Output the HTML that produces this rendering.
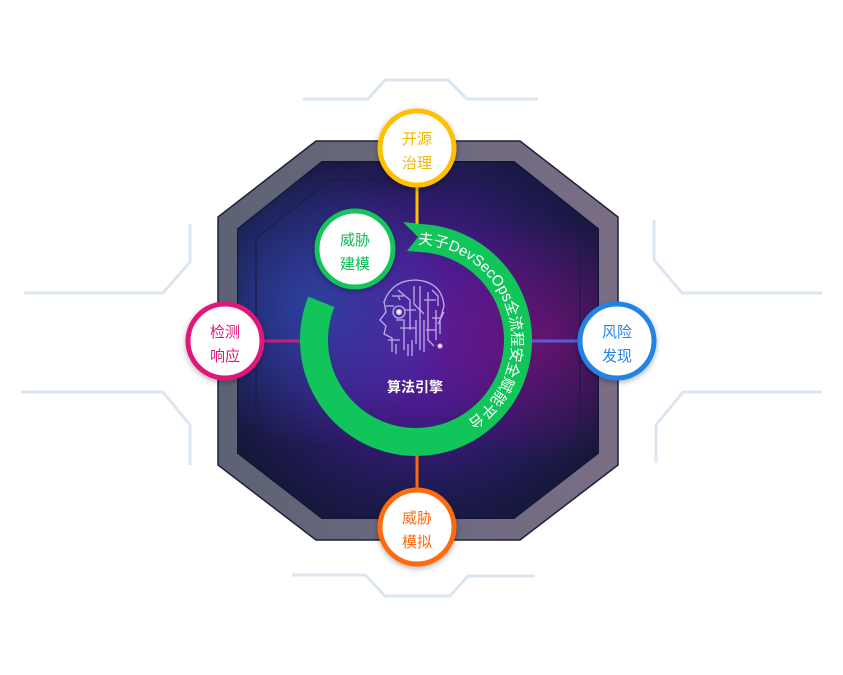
<!DOCTYPE html>
<html><head><meta charset="utf-8"><style>
html,body{margin:0;padding:0;background:#fff;width:843px;height:675px;overflow:hidden}
svg{display:block}
text{font-family:"Liberation Sans","Noto Sans CJK SC",sans-serif}
</style></head><body>
<svg width="843" height="675" viewBox="0 0 843 675" xmlns="http://www.w3.org/2000/svg">
<defs>
<linearGradient id="frame" x1="0" y1="0" x2="1" y2="0">
<stop offset="0" stop-color="#5c6274"/><stop offset="1" stop-color="#7a6e86"/></linearGradient>
<radialGradient id="inner" cx="0.5" cy="0.47" r="0.6">
<stop offset="0" stop-color="#5a1fa0"/><stop offset="0.35" stop-color="#4a1a8e"/>
<stop offset="0.7" stop-color="#241a5a"/><stop offset="1" stop-color="#141838"/></radialGradient>
<radialGradient id="blue" cx="0.2" cy="0.4" r="0.4">
<stop offset="0" stop-color="#2a4aa8" stop-opacity="0.8"/><stop offset="1" stop-color="#2a4aa8" stop-opacity="0"/></radialGradient>
<radialGradient id="mag" cx="0.85" cy="0.5" r="0.35">
<stop offset="0" stop-color="#7a1070" stop-opacity="0.7"/><stop offset="1" stop-color="#7a1070" stop-opacity="0"/></radialGradient>
<filter id="sh" x="-30%" y="-30%" width="160%" height="160%"><feDropShadow dx="0" dy="2" stdDeviation="3" flood-color="#000" flood-opacity="0.3"/></filter>
<path id="tp" d="M 414 244 A 96 96 0 0 1 512 340 A 96 96 0 0 1 416 436"/>
</defs>
<g fill="none" stroke="#dce6f3" stroke-width="3">
<polyline points="303,99 368,99 385,80 448,80 467,99 538,99"/>
<polyline points="292,575 365,575 385,596 450,596 468,576 535,576"/>
<polyline points="190,224 190,262 163,293 24,293"/>
<polyline points="21,392 163,392 190,425 190,465"/>
<polyline points="654,220 654,260 682,293 822,293"/>
<polyline points="822,392 683,392 656,425 656,463"/>
</g>
<polygon points="316,141 520,141 618,217 618,465 520,540 316,540 218,465 218,217" fill="url(#frame)" stroke="#1e2036" stroke-width="1.5"/>
<polygon points="322,162 514,162 598,229 598,453 514,518 322,518 238,453 238,229" fill="url(#inner)" stroke="#15173a" stroke-width="2"/>
<polygon points="322,162 514,162 598,229 598,453 514,518 322,518 238,453 238,229" fill="url(#blue)"/>
<polygon points="322,162 514,162 598,229 598,453 514,518 322,518 238,453 238,229" fill="url(#mag)"/>
<polygon points="330,180 506,180 580,238 580,444 506,500 330,500 256,444 256,238" fill="none" stroke="#1a1c44" stroke-opacity="0.6" stroke-width="2"/>
<line x1="417" y1="185" x2="417" y2="225" stroke="#ffc000" stroke-width="3"/>
<line x1="417" y1="455" x2="417" y2="490" stroke="#ff6a10" stroke-width="3"/>
<line x1="262" y1="341" x2="300" y2="341" stroke="#c02080" stroke-width="3"/>
<line x1="532" y1="341" x2="578" y2="341" stroke="#5a5ad8" stroke-width="3"/>
<path d="M 419.6 238 A 102 102 0 1 1 321.4 301.8" fill="none" stroke="#12c55a" stroke-width="28"/>
<polygon points="421,224 403,222 418,237 407,251 421,252" fill="#12c55a"/>
<text font-size="15" fill="#fff"><textPath href="#tp" startOffset="4">夫子DevSecOps全流程安全赋能平台</textPath></text>
<g stroke="#c8b4f0" stroke-width="1.3" fill="none" opacity="0.95">
<path d="M392 352 L392 338 L384 334 L386 326 L380 320 L386 312 L384 302 Q392 280 416 280 Q442 282 444 306 L440 320 L440 334"/>
<path d="M398 290 L410 300 L410 330 M420 286 L420 350 M428 292 L428 340 L434 346 M404 310 L416 310 M424 300 L436 300 M396 320 L404 320 L404 350 M432 318 L440 318 M412 340 L412 356 M400 300 L398 296 M436 310 L436 340"/>
<path d="M392 296 L404 296 M414 286 L414 304 L424 314 M400 328 L416 328 M388 340 L400 340 M416 320 L416 344 M424 320 L424 352 M432 290 L438 296 L438 306 M444 312 L438 324 M396 344 L396 354 M408 344 L408 356 M386 306 L394 306 M426 330 L436 330"/>
<circle cx="399" cy="312" r="6"/><circle cx="399" cy="312" r="2.5" fill="#fff"/>
<circle cx="440" cy="346" r="2" fill="#fff"/>
</g>
<text x="415" y="392" font-size="14" font-weight="bold" fill="#fff" text-anchor="middle">算法引擎</text>
<g filter="url(#sh)">
<circle cx="417" cy="148" r="37" fill="#fff" stroke="#ffc000" stroke-width="5"/>
<circle cx="355" cy="249" r="38" fill="#fff" stroke="#12c55a" stroke-width="5"/>
<circle cx="225" cy="341" r="37" fill="#fff" stroke="#e0187a" stroke-width="5"/>
<circle cx="617" cy="341" r="37" fill="#fff" stroke="#2383e6" stroke-width="5"/>
<circle cx="417" cy="527" r="37" fill="#fff" stroke="#ff6a10" stroke-width="5"/>
</g>
<g font-size="15" text-anchor="middle">
<text x="417" y="144" fill="#f5b800">开源</text><text x="417" y="168" fill="#f5b800">治理</text>
<text x="355" y="245" fill="#12b855">威胁</text><text x="355" y="269" fill="#12b855">建模</text>
<text x="225" y="337" fill="#e0187a">检测</text><text x="225" y="361" fill="#e0187a">响应</text>
<text x="617" y="337" fill="#2383e6">风险</text><text x="617" y="361" fill="#2383e6">发现</text>
<text x="417" y="523" fill="#ff6a10">威胁</text><text x="417" y="547" fill="#ff6a10">模拟</text>
</g>
</svg>
</body></html>
